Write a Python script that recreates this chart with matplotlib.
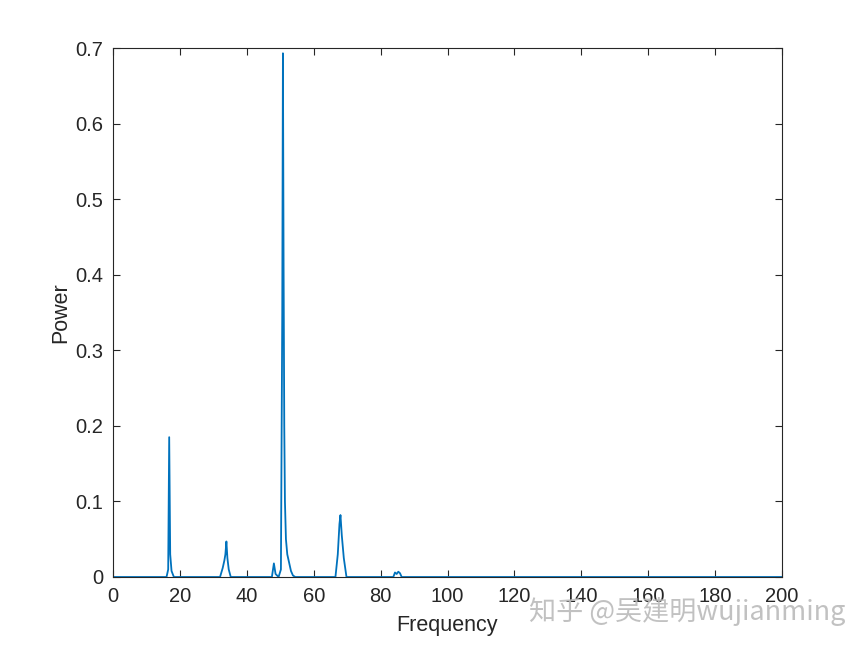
import matplotlib
matplotlib.use("Agg")
import matplotlib.pyplot as plt

freq = [0, 16.0, 16.5, 16.8, 17.1, 17.5, 18.2, 32.0, 32.8, 33.3, 33.6, 33.9, 34.2, 34.6, 35.2,
        47.5, 48.1, 48.6, 49.5, 50.2, 50.6, 50.8, 51.0, 51.2, 51.4, 51.7, 52.1, 52.6, 53.2, 53.8, 54.5,
        66.5, 67.2, 67.7, 68.0, 68.4, 69.0, 69.8, 83.8, 84.3, 84.8, 85.3, 85.8, 86.3, 200]
power = [0, 0, 0.01, 0.185, 0.03, 0.008, 0, 0, 0.012, 0.022, 0.03, 0.047, 0.025, 0.01, 0,
         0, 0.018, 0.004, 0, 0.01, 0.35, 0.693, 0.41, 0.2, 0.1, 0.05, 0.03, 0.02, 0.008, 0.002, 0,
         0, 0.03, 0.07, 0.082, 0.055, 0.025, 0, 0, 0.006, 0.004, 0.007, 0.005, 0, 0]

xticks = list(range(0, 201, 20))
yticks = [0, 0.1, 0.2, 0.3, 0.4, 0.5, 0.6, 0.7]
ytick_labels = ["0", "0.1", "0.2", "0.3", "0.4", "0.5", "0.6", "0.7"]

plt.rcParams['font.family'] = ['Liberation Sans', 'DejaVu Sans']
fig = plt.figure(figsize=(8.65, 6.49), dpi=100)
ax = fig.add_axes([113/865, 1-577/649, (782-113)/865, (577-48)/649])
ax.plot(freq, power, color='#0072BD', lw=1.3)
ax.set_xlim(0, 200)
ax.set_ylim(0, 0.7)
ax.set_xticks(xticks)
ax.set_yticks(yticks)
ax.set_yticklabels(ytick_labels)
ax.tick_params(direction='in', top=True, right=True, labelsize=14.5, colors='#262626', length=5, width=0.8)
ax.tick_params(axis='x', pad=7)
ax.tick_params(axis='y', pad=7)
for s in ax.spines.values():
    s.set_color('#262626')
    s.set_linewidth(0.8)
ax.set_xlabel('Frequency', fontsize=15.5, color='#262626', labelpad=7)
ax.set_ylabel('Power', fontsize=15.5, color='#262626', labelpad=3)
fig.text(845/865, 1-611/649, '知乎 @吴建明wujianming', ha='right', va='center', fontsize=19.5,
         color='#bbbbbb', alpha=0.9, family=['Noto Sans CJK SC', 'DejaVu Sans'], zorder=0)
fig.savefig('out.png', dpi=100)
